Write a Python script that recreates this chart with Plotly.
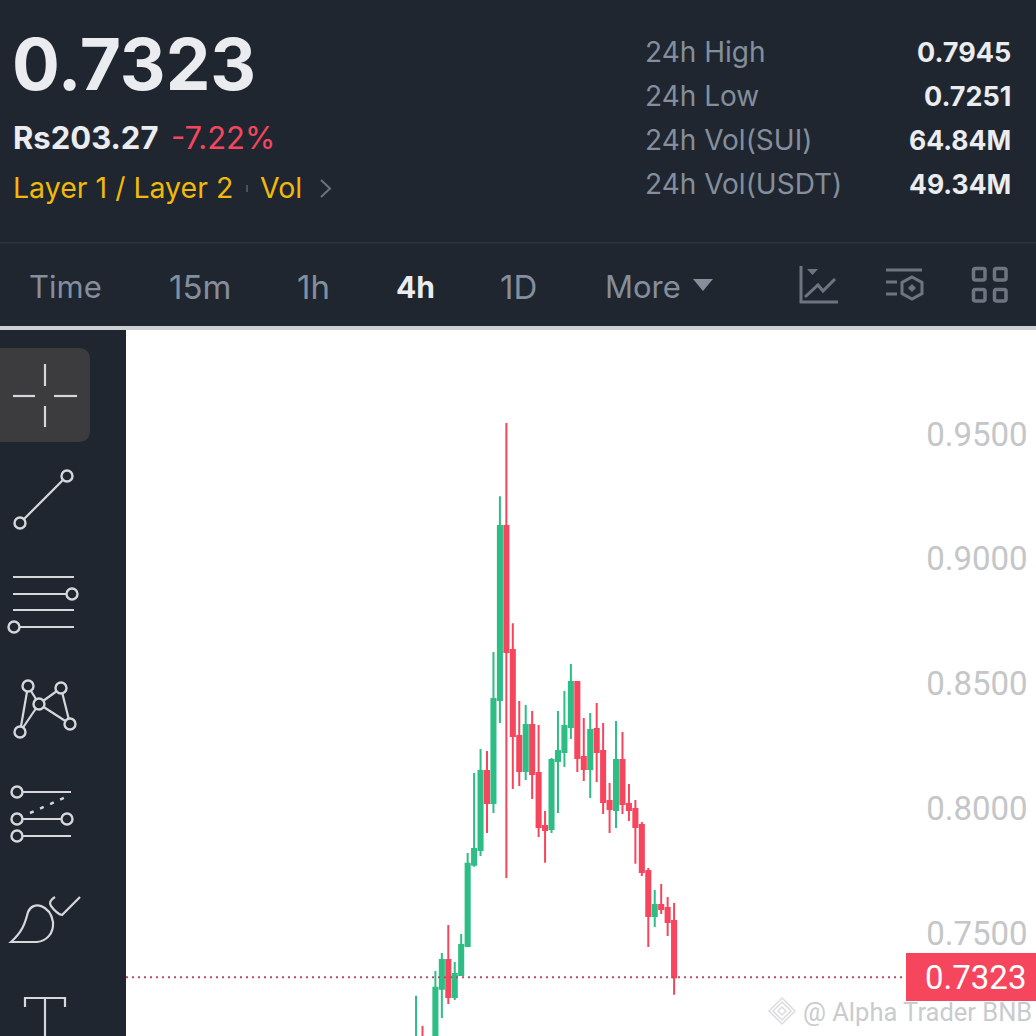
"""SUI/USDT 4h candlestick screen rebuilt with plotly."""
import plotly.graph_objects as go

W = 1036

candle_index = list(range(41))
opens = [.7000, .7050, .7000, .7000, .7276, .7392, .7243, .7332, .7448, .7773, .7833, .8149, .8021, .8434, .9131,
         .8634, .8290, .8149, .8334, .8141, .7929, .7917, .8189, .8225, .8326, .8506, .8205, .8157, .8318, .8229,
         .8029, .7993, .8193, .8017, .7997, .7933, .7748, .7568, .7612, .7600, .7548]
highs = [.7248, .7127, .7050, .7348, .7420, .7532, .7384, .7496, .7821, .8141, .8237, .8229, .8626, .9251, .9544,
         .8742, .8430, .8414, .8390, .8334, .7989, .8201, .8390, .8470, .8578, .8510, .8362, .8382, .8422, .8342,
         .8101, .8350, .8306, .8097, .8033, .7945, .7760, .7672, .7696, .7644, .7620]
lows = [.6950, .6950, .6950, .6950, .7159, .7215, .7231, .7328, .7448, .7765, .7809, .7901, .7981, .8342, .7720,
        .8077, .8089, .8113, .8037, .7885, .7781, .7901, .7981, .8165, .8278, .8145, .8109, .8041, .8105, .7977,
        .7901, .7921, .7977, .7949, .7777, .7728, .7444, .7524, .7576, .7488, .7252]
closes = [.7050, .7000, .7020, .7280, .7392, .7243, .7336, .7452, .7777, .7837, .8149, .8021, .8438, .9131, .8626,
          .8290, .8149, .8334, .8137, .7925, .7913, .8193, .8229, .8330, .8506, .8201, .8157, .8314, .8225, .8025,
          .7997, .8193, .8017, .7993, .7925, .7744, .7568, .7612, .7596, .7544, .7323]
y_ticks = [0.75, 0.80, 0.85, 0.90, 0.95]
last_price = 0.7323

DARK = "#1F2630"
GREEN = "#2EBD85"
RED = "#F6465D"
YELLOW = "#F0B90B"
GREY = "#848E9C"
ICON = "#6F7580"
WHITE = "#EAECEF"
TOOL = "#D5D7DA"


def px(x):
    return x / W


def py(y):
    return 1 - y / W


def rect(x0, y0, x1, y1, fill):
    return dict(type="rect", xref="paper", yref="paper", x0=px(x0), x1=px(x1), y0=py(y0), y1=py(y1),
                fillcolor=fill, line_width=0)


def poly(points, color=TOOL, width=2.2, fill=None, closed=False, dash=None):
    d = "M" + " L".join(f"{px(x):.5f},{py(y):.5f}" for x, y in points) + (" Z" if closed else "")
    return dict(type="path", xref="paper", yref="paper", path=d, fillcolor=fill,
                line=dict(color=color, width=width, dash=dash))


def curve(d, color=TOOL, width=2.2, fill=None):
    out = []
    for tok in d.split():
        if tok[0] in "MCLZ":
            out.append(tok[0])
            tok = tok[1:]
        if tok:
            x, y = tok.split(",")
            out.append(f"{px(float(x)):.5f},{py(float(y)):.5f}")
    return dict(type="path", xref="paper", yref="paper", path=" ".join(out), fillcolor=fill,
                line=dict(color=color, width=width))


def ring(x, y, r=5.5, color=TOOL, width=2.4):
    return dict(type="circle", xref="paper", yref="paper", x0=px(x - r), x1=px(x + r), y0=py(y + r), y1=py(y - r),
                fillcolor=DARK, line=dict(color=color, width=width))


def label(x, y, text, size, color, anchor="left", family="Inter", bold=False):
    return dict(xref="paper", yref="paper", x=px(x), y=py(y), text=f"<b>{text}</b>" if bold else text,
                showarrow=False, xanchor=anchor, yanchor="middle", borderpad=0,
                font=dict(size=size, color=color, family=family))


fig = go.Figure(go.Candlestick(
    x=candle_index, open=opens, high=highs, low=lows, close=closes,
    increasing=dict(line=dict(color=GREEN, width=2), fillcolor=GREEN),
    decreasing=dict(line=dict(color=RED, width=2), fillcolor=RED),
    whiskerwidth=0, showlegend=False,
))

shapes = [
    rect(0, 0, W, 326, DARK),
    rect(0, 326, W, 330, "#CDD0D0"),
    rect(0, 330, 126, W, DARK),
    rect(0, 242, W, 243.5, "#2C333D"),
    curve("M0,348 L78,348 C86,348 90,352 90,360 L90,430 C90,438 86,442 78,442 L0,442 Z",
          color="#3C3C3E", width=0, fill="#3C3C3E"),
    # price line and tag
    dict(type="line", xref="paper", yref="y", x0=px(126), x1=px(906), y0=last_price, y1=last_price,
         line=dict(color="#B4505F", width=2, dash="2px,4px")),
    rect(906, 953, W, 1001, RED),
    # header glyphs
    poly([(321, 180), (330, 188.5), (321, 197)], color="#6C7380", width=2),
    rect(246, 185, 248, 192, "#4A515C"),
    poly([(693, 279), (713, 279), (703, 291)], color=GREY, width=0, fill=GREY, closed=True),
    # chart type icon
    poly([(801, 266), (801, 302), (838, 302)], color=ICON, width=3),
    poly([(807, 269), (818, 269), (812.5, 275)], color=ICON, width=0, fill=ICON, closed=True),
    poly([(805, 297), (818, 285), (823, 291), (835, 279)], color=ICON, width=3),
    # settings icon
    poly([(886, 270), (922, 270)], color=ICON, width=3),
    poly([(886, 282), (897, 282)], color=ICON, width=3),
    poly([(886, 294), (897, 294)], color=ICON, width=3),
    poly([(912, 277), (922, 282.5), (922, 293.5), (912, 299), (902, 293.5), (902, 282.5)], color=ICON, width=3,
         closed=True),
    poly([(912, 284), (916, 288), (912, 292), (908, 288)], color=ICON, width=0, fill=ICON, closed=True),
]
# layout icon, rounded squares
for x0 in (973.5, 994.5):
    for y0 in (268.5, 289.5):
        a, b = x0 + 11.5, y0 + 11.5
        shapes.append(curve(
            f"M{x0 + 2},{y0} L{a - 2},{y0} C{a},{y0} {a},{y0} {a},{y0 + 2} L{a},{b - 2} C{a},{b} {a},{b} {a - 2},{b} "
            f"L{x0 + 2},{b} C{x0},{b} {x0},{b} {x0},{b - 2} L{x0},{y0 + 2} C{x0},{y0} {x0},{y0} {x0 + 2},{y0} Z",
            color=ICON, width=3.5))

# left tool bar
for seg in [[(13, 396), (35, 396)], [(54, 396), (77, 396)], [(45, 364), (45, 386)], [(45, 406), (45, 427)],
            [(20, 523), (67, 476)],
            [(13, 577), (74, 577)], [(13, 594), (66, 594)], [(13, 610), (74, 610)], [(20, 627), (74, 627)],
            [(28, 686), (39, 704)], [(39, 704), (61, 688)], [(28, 686), (20, 732)], [(20, 732), (39, 704)],
            [(39, 704), (70, 724)], [(61, 688), (70, 724)],
            [(17, 792), (71, 792)], [(17, 819), (67, 819)], [(17, 836), (71, 836)],
            [(25, 1007), (25, 998), (65, 998), (65, 1007)], [(45, 998), (45, 1036)]]:
    shapes.append(poly(seg))
shapes.append(poly([(30, 813), (66, 797)], dash="4px,7px", width=2.5))
shapes.append(curve("M11,942 C22,932 25,924 28,912 C33,900 50,905 53,922 C54,934 46,941 37,942 L11,942 Z"))
shapes.append(curve("M55,897 C50,900 49,903 51,906 C54,910 57,914 62,915 L80,897"))
for cx, cy in [(67, 476), (20, 523), (72, 594), (14, 627), (28, 686), (61, 688), (39, 704), (20, 732), (70, 724),
               (17, 792), (17, 819), (67, 819), (17, 836)]:
    shapes.append(ring(cx, cy))

# watermark logo
for cx, cy, r in [(782, 1011, 13), (782, 1011, 9), (782, 1011, 4)]:
    shapes.append(poly([(cx, cy - r), (cx + r, cy), (cx, cy + r), (cx - r, cy)], color="#DADCDE", width=1.5,
                       closed=True))

annotations = [
    label(11, 64, "0.7323", 71, WHITE, bold=True),
    label(12, 137, "Rs203.27", 31, WHITE, bold=True),
    label(170, 137, "-7.22%", 31, RED),
    label(12, 188, "Layer 1 / Layer 2", 28.5, YELLOW),
    label(259, 188, "Vol", 28.5, YELLOW),
    label(644, 52, "24h High", 28, GREY),
    label(644, 96, "24h Low", 28, GREY),
    label(644, 140, "24h Vol(SUI)", 28, GREY),
    label(644, 184, "24h Vol(USDT)", 28, GREY),
    label(1012, 52, "0.7945", 27, WHITE, "right", bold=True),
    label(1012, 96, "0.7251", 27, WHITE, "right", bold=True),
    label(1012, 140, "64.84M", 26.5, WHITE, "right", bold=True),
    label(1012, 184, "49.34M", 26.5, WHITE, "right", bold=True),
    label(28, 287, "Time", 31, GREY),
    label(168, 287, "15m", 33, GREY),
    label(296, 287, "1h", 33, GREY),
    label(395, 287, "4h", 30, WHITE, bold=True),
    label(499, 287, "1D", 33, GREY),
    label(604, 287, "More", 31, GREY),
    label(1027, 977, "0.7323", 33, "#FFFFFF", "right", "Roboto"),
    label(802, 1012, "@ Alpha Trader BNB", 25.5, "#C9CBCD", "left", "Roboto"),
]

fig.update_layout(
    width=W, height=W, margin=dict(l=0, r=0, t=0, b=0), autosize=False,
    paper_bgcolor="#FFFFFF", plot_bgcolor="#FFFFFF", boxgap=0.1,
    shapes=shapes, annotations=annotations,
    xaxis=dict(domain=[px(126), 1], range=[-44.96, 96.1], visible=False, rangeslider=dict(visible=False)),
    yaxis=dict(domain=[0, py(330)], range=[0.7087, 0.9917], side="right", showgrid=False, zeroline=False,
               showline=False, tickmode="array", tickvals=y_ticks, tickformat=".4f",
               ticks="inside", ticklen=12, tickcolor="rgba(0,0,0,0)", ticklabelposition="inside",
               tickfont=dict(family="Roboto", size=33, color="#C4C6C8")),
)

# page margin would push the figure off the window
fig.write_html("out.html", config={"displayModeBar": False}, post_script="document.body.style.margin = '0';")
